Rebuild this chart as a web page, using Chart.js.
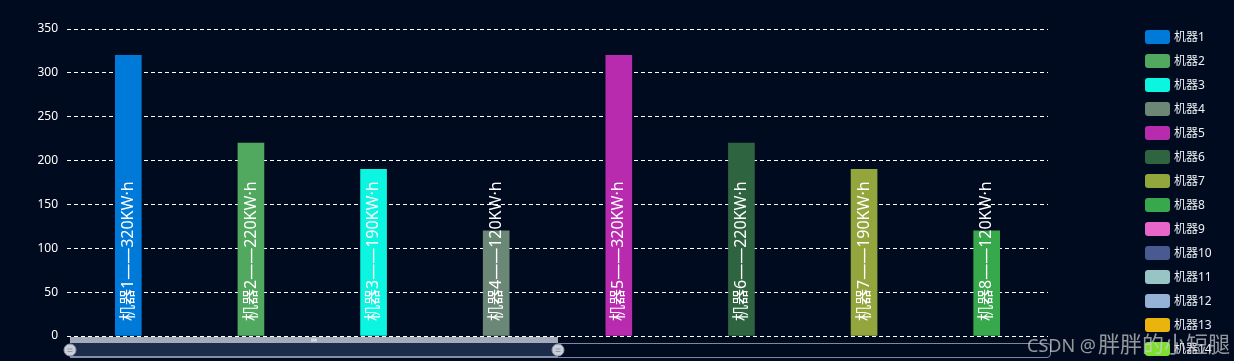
<!DOCTYPE html>
<html>
<head>
<meta charset="utf-8">
<script src="https://cdn.jsdelivr.net/npm/chart.js@4/dist/chart.umd.min.js"></script>
<style>
  html, body { margin: 0; padding: 0; background: #010b1f; }
  #wrap { position: relative; width: 1234px; height: 361px; overflow: hidden; }
  #legend { position: absolute; left: 1145px; top: 30px; margin: 0; padding: 0; list-style: none;
    font: 12px "Noto Sans", "Noto Sans CJK SC", sans-serif; color: #eef1f5; }
  #legend li { height: 24px; display: flex; align-items: flex-start; }
  #legend span.sw { display: inline-block; width: 25px; height: 14px; border-radius: 3px; margin-right: 4px; }
  #legend span.tx { line-height: 14px; }
  #mark { position: absolute; left: 1027px; top: 326px; color: rgba(205,205,205,0.72); white-space: nowrap;
    font-family: "Noto Sans", "Noto Sans CJK SC", sans-serif; }
  #mark .a { font-size: 18px; }
  #mark .b { font-size: 22px; margin-left: 2px; }
</style>
</head>
<body>
<div id="wrap">
  <canvas id="chart" width="1234" height="361"></canvas>
  <ul id="legend"></ul>
  <div id="mark"><span class="a">CSDN @</span><span class="b">胖胖的小短腿</span></div>
</div>
<script>
// categories shown in the zoom window
const categories = ['机器1', '机器2', '机器3', '机器4', '机器5', '机器6', '机器7', '机器8'];
const values = [320, 220, 190, 120, 320, 220, 190, 120];
// legend entries
const legendNames = ['机器1', '机器2', '机器3', '机器4', '机器5', '机器6', '机器7',
  '机器8', '机器9', '机器10', '机器11', '机器12', '机器13', '机器14'];
const colors = ['#007ad9', '#51a95f', '#0cf5e0', '#6b8877', '#b82aae', '#2e6540', '#93a63d',
  '#37a84b', '#e866c9', '#485a8f', '#98c4c6', '#94b1d6', '#ebb40c', '#7de02e'];
const yMax = 350;
const yStep = 50;
const unit = 'KW·h';

// legend
const legendEl = document.getElementById('legend');
legendNames.forEach((n, i) => {
  const li = document.createElement('li');
  li.innerHTML = `<span class="sw" style="background:${colors[i]}"></span><span class="tx">${n}</span>`;
  legendEl.appendChild(li);
});

// rotated labels inside bars
const barLabels = {
  id: 'barLabels',
  afterDatasetsDraw(chart) {
    const ctx = chart.ctx;
    const meta = chart.getDatasetMeta(0);
    const y0 = chart.scales.y.getPixelForValue(0);
    ctx.save();
    ctx.fillStyle = '#ffffff';
    ctx.font = '16px "Noto Sans", "Noto Sans CJK SC", sans-serif';
    ctx.textAlign = 'left';
    ctx.textBaseline = 'middle';
    meta.data.forEach((bar, i) => {
      ctx.save();
      ctx.translate(bar.x, y0 - 15);
      ctx.rotate(-Math.PI / 2);
      ctx.fillText(categories[i] + '——' + values[i] + unit, 0, 0);
      ctx.restore();
    });
    ctx.restore();
  }
};

// dataZoom-like slider under the plot
const slider = {
  id: 'slider',
  afterDraw(chart) {
    const ctx = chart.ctx;
    const a = chart.chartArea;
    const x0 = a.left + 3, x1 = a.right + 2, xs = 558;
    const top = a.bottom + 7, bot = 357;
    ctx.save();
    // outer frame
    ctx.strokeStyle = '#7d889c';
    ctx.lineWidth = 1;
    ctx.beginPath();
    ctx.moveTo(x0, top + 0.5);
    ctx.lineTo(x1 - 3, top + 0.5);
    ctx.quadraticCurveTo(x1 + 0.5, top + 0.5, x1 + 0.5, top + 3);
    ctx.lineTo(x1 + 0.5, bot - 3);
    ctx.quadraticCurveTo(x1 + 0.5, bot + 0.5, x1 - 3, bot + 0.5);
    ctx.lineTo(x0, bot + 0.5);
    ctx.stroke();
    // selected range
    ctx.fillStyle = '#1e2c4c';
    ctx.fillRect(x0, top, xs - x0, bot - top);
    ctx.fillStyle = '#a3abbb';
    ctx.fillRect(x0, a.bottom + 1, xs - x0, top - a.bottom - 1);
    ctx.fillStyle = '#8390a6';
    ctx.fillRect(x0, bot - 1, xs - x0, 2);
    // move handle mark
    ctx.fillStyle = '#ffffff';
    const mx = (x0 + xs) / 2;
    for (let k = -1; k <= 1; k++) ctx.fillRect(mx + k * 2 - 0.5, a.bottom + 2.5, 1, 3);
    // handles
    [x0, xs].forEach(hx => {
      ctx.beginPath();
      ctx.arc(hx, 350, 6, 0, Math.PI * 2);
      ctx.fillStyle = '#c9ced8';
      ctx.fill();
      ctx.strokeStyle = '#8e97a8';
      ctx.stroke();
      ctx.fillStyle = '#8e97a8';
      ctx.fillRect(hx - 2.5, 348.5, 5, 1);
      ctx.fillRect(hx - 2.5, 351, 5, 1);
    });
    ctx.restore();
  }
};

new Chart(document.getElementById('chart'), {
  type: 'bar',
  data: {
    labels: categories,
    datasets: [{
      data: values,
      backgroundColor: colors.slice(0, categories.length),
      barThickness: 26,
      borderWidth: 0
    }]
  },
  options: {
    responsive: false,
    animation: false,
    layout: { padding: { top: 29, right: 186, bottom: 25, left: 0 } },
    scales: {
      x: { display: false },
      y: {
        min: 0, max: yMax,
        afterFit(scale) { scale.width = 67; },
        ticks: { stepSize: yStep, color: '#ffffff', padding: 9,
          font: { size: 12, family: '"Noto Sans", "Noto Sans CJK SC", sans-serif' } },
        grid: { color: '#ffffff', lineWidth: 1, drawTicks: false },
        border: { display: false, dash: [4, 3] }
      }
    },
    plugins: { legend: { display: false }, tooltip: { enabled: false } }
  },
  plugins: [barLabels, slider]
});
</script>
</body>
</html>
